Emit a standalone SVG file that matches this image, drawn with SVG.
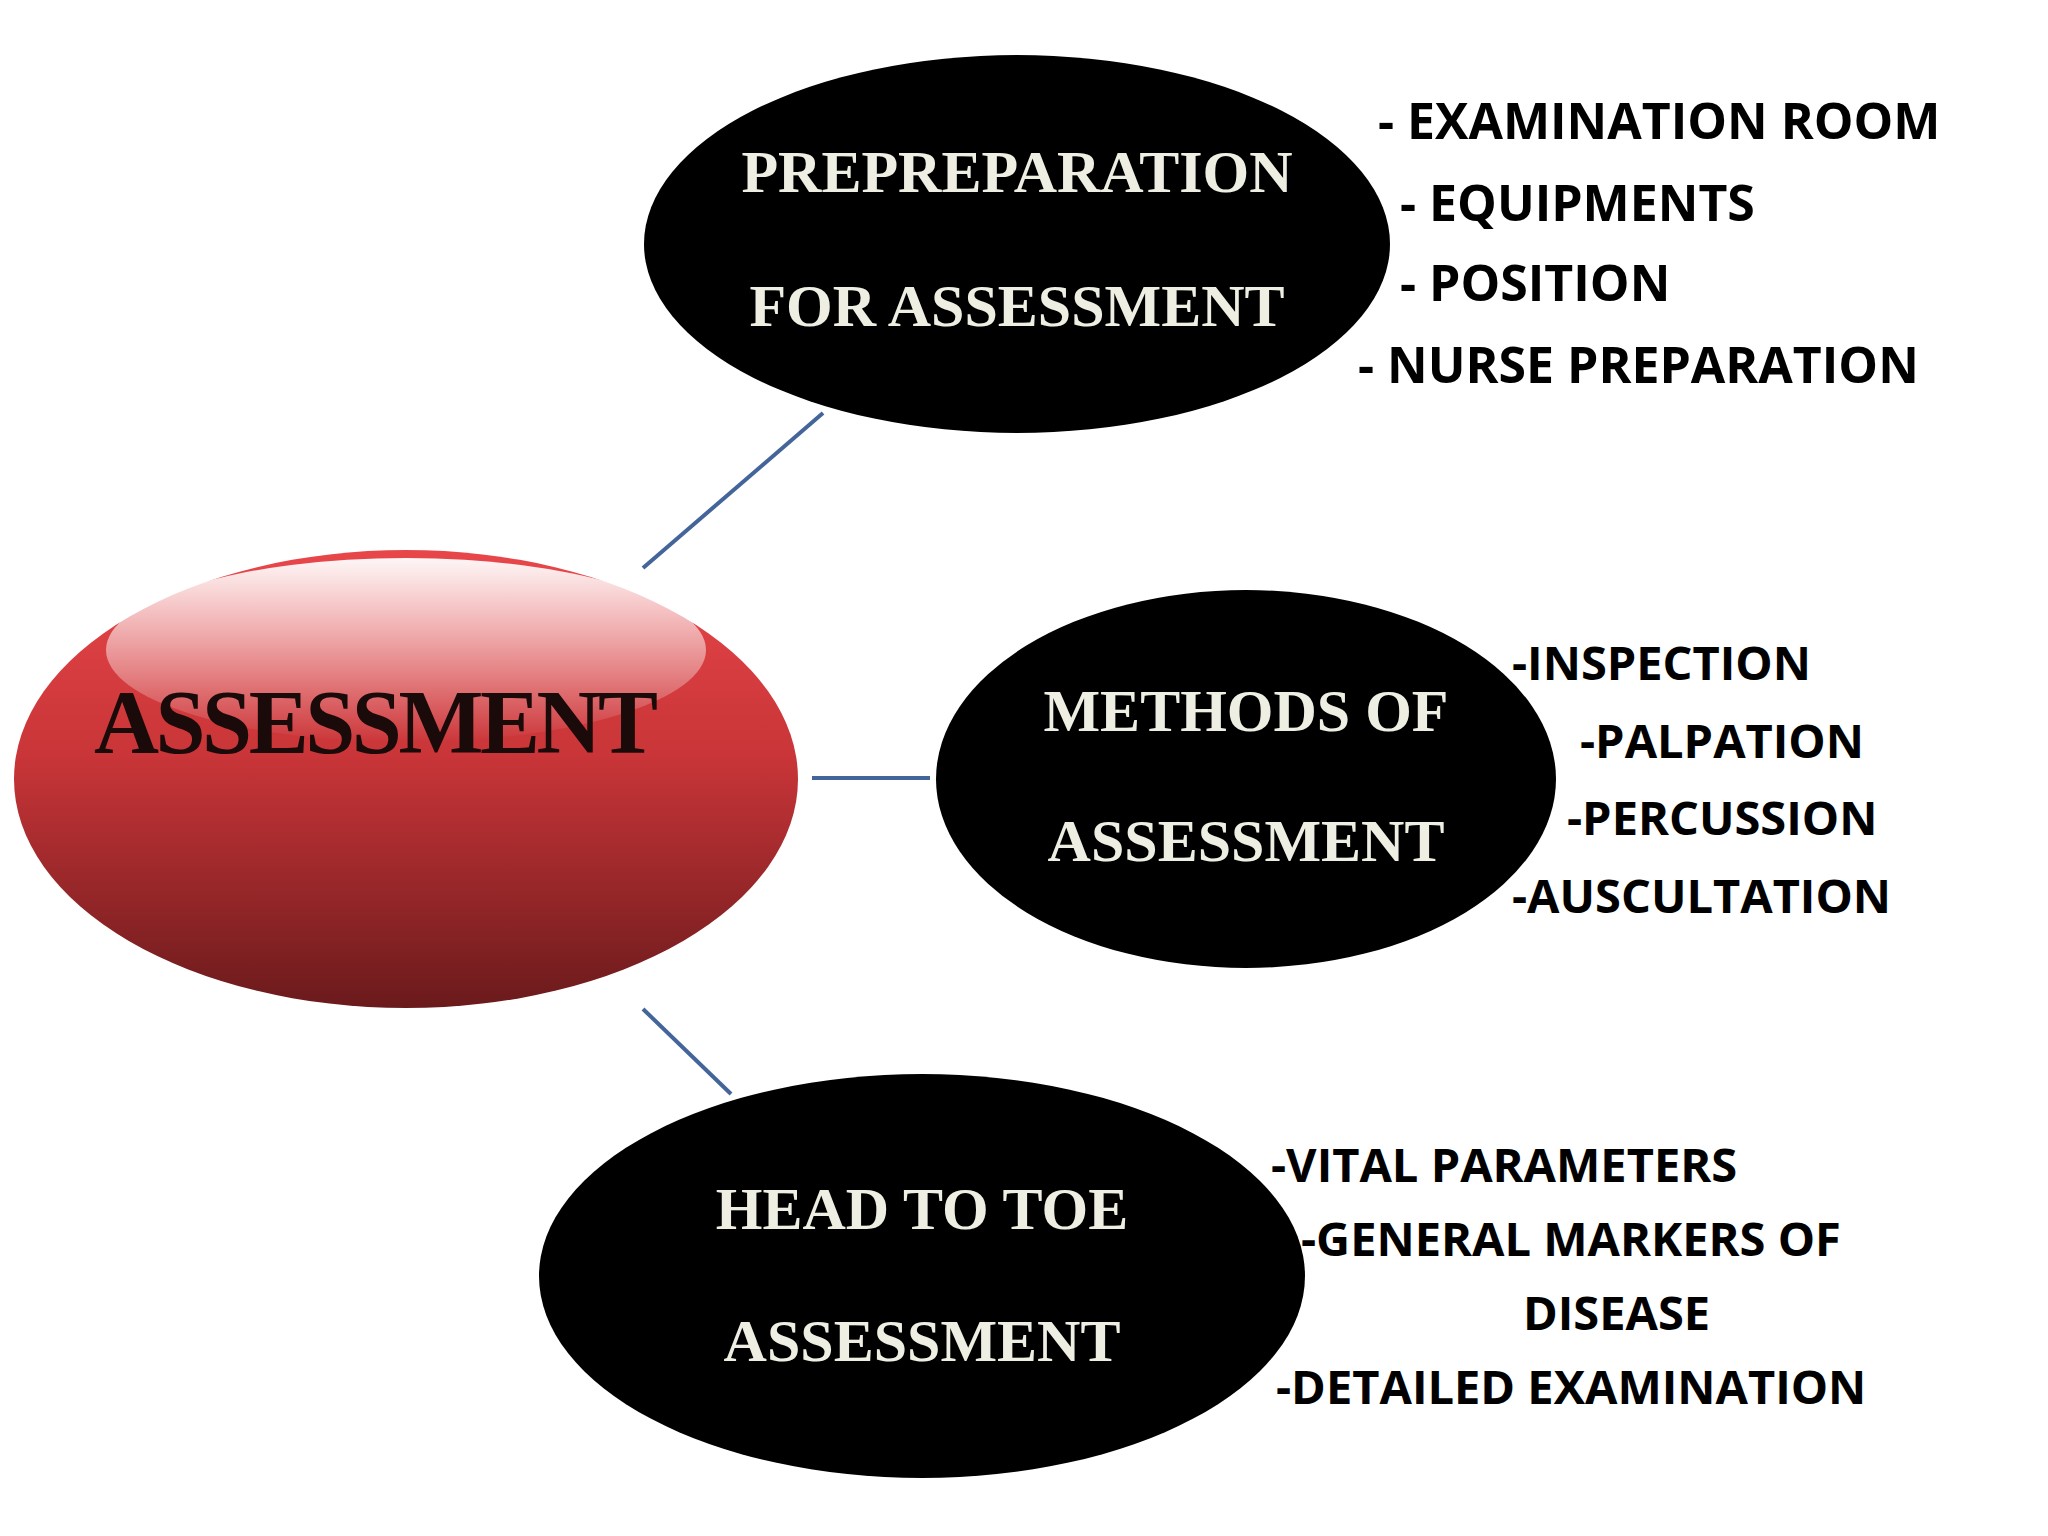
<svg xmlns="http://www.w3.org/2000/svg" width="2048" height="1536" viewBox="0 0 2048 1536">
<defs>
<linearGradient id="red" x1="0" y1="0" x2="0" y2="1">
<stop offset="0" stop-color="#e8474a"/><stop offset="0.45" stop-color="#c93538"/><stop offset="1" stop-color="#6a1a1c"/>
</linearGradient>
<linearGradient id="gloss" x1="0" y1="0" x2="0" y2="1">
<stop offset="0" stop-color="#ffffff" stop-opacity="0.95"/><stop offset="1" stop-color="#ffffff" stop-opacity="0"/>
</linearGradient>
</defs>
<style>
.node{fill:#000}
.nt{font-family:"Liberation Serif",serif;font-weight:700;font-size:60px;fill:#eeeee2;text-anchor:middle}
.lt{font-family:"Open Sans","Liberation Sans",sans-serif;font-weight:700;font-size:50px;fill:#000}
.s{font-size:47px}
.conn line{stroke:#44659a;stroke-width:4}
</style>
<rect width="2048" height="1536" fill="#fff"/>
<g class="conn">
<line x1="643" y1="568" x2="823" y2="413"/>
<line x1="812" y1="778" x2="930" y2="778"/>
<line x1="643" y1="1009" x2="731" y2="1094"/>
</g>
<g id="assessment">
<ellipse cx="406" cy="779" rx="392" ry="229" fill="url(#red)"/>
<ellipse cx="406" cy="650" rx="300" ry="92" fill="url(#gloss)"/>
<text x="376" y="753" font-family="Liberation Serif,serif" font-weight="700" font-size="90" fill="#1a0a0a" text-anchor="middle" textLength="564">ASSESSMENT</text>
</g>
<g id="prep">
<ellipse class="node" cx="1017" cy="244" rx="373" ry="189"/>
<text class="nt" x="1017" y="192">PREPREPARATION</text>
<text class="nt" x="1017" y="326">FOR ASSESSMENT</text>
<text class="lt" x="1378" y="139">- EXAMINATION ROOM</text>
<text class="lt" x="1400" y="221">- EQUIPMENTS</text>
<text class="lt" x="1400" y="301">- POSITION</text>
<text class="lt" x="1358" y="383">- NURSE PREPARATION</text>
</g>
<g id="methods">
<ellipse class="node" cx="1246" cy="779" rx="310" ry="189"/>
<text class="nt" x="1246" y="731">METHODS OF</text>
<text class="nt" x="1246" y="861">ASSESSMENT</text>
<text class="lt s" x="1512" y="680">-INSPECTION</text>
<text class="lt s" x="1580" y="758">-PALPATION</text>
<text class="lt s" x="1567" y="835">-PERCUSSION</text>
<text class="lt s" x="1512" y="913">-AUSCULTATION</text>
</g>
<g id="headtotoe">
<ellipse class="node" cx="922" cy="1276" rx="383" ry="202"/>
<text class="nt" x="922" y="1229">HEAD TO TOE</text>
<text class="nt" x="922" y="1361">ASSESSMENT</text>
<text class="lt s" x="1271" y="1182">-VITAL PARAMETERS</text>
<text class="lt s" x="1301" y="1256">-GENERAL MARKERS OF</text>
<text class="lt s" x="1523" y="1330">DISEASE</text>
<text class="lt s" x="1276" y="1404">-DETAILED EXAMINATION</text>
</g>
</svg>
